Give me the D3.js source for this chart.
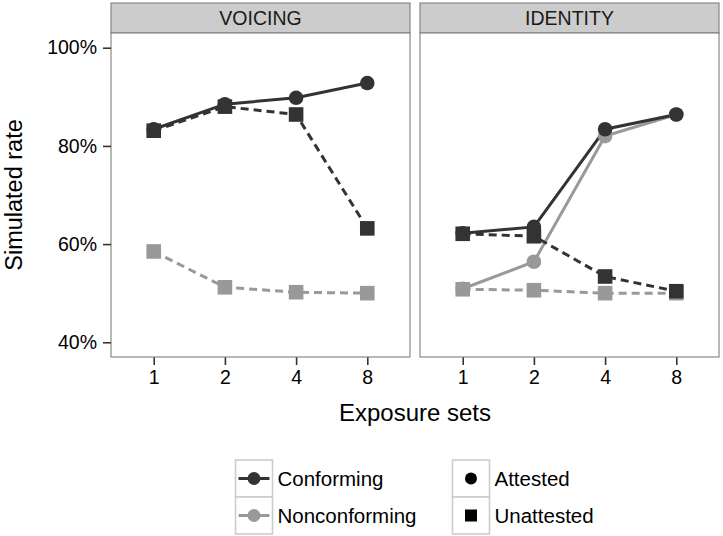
<html>
<head>
    <script src="https://d3js.org/d3.v7.min.js"></script>
    <style>
        body { margin: 0; background: #fff; }
        text { font-family: "Liberation Sans", Arial, sans-serif; }
    </style>
</head>
<body>
<svg id="chart" width="723" height="536"></svg>

<script>
    // data
    const exposureSets = ["1", "2", "4", "8"];
    const panelNames = ["VOICING", "IDENTITY"];
    const yTicks = [0.4, 0.6, 0.8, 1.0];

    const voicingConfAtt = [0.834, 0.885, 0.898, 0.928];
    const voicingConfUnatt = [0.831, 0.880, 0.864, 0.632];
    const voicingNonconfUnatt = [0.585, 0.512, 0.502, 0.500];

    const identityConfAtt = [0.622, 0.635, 0.834, 0.864];
    const identityConfUnatt = [0.621, 0.616, 0.534, 0.504];
    const identityNonconfAtt = [0.509, 0.564, 0.820, 0.864];
    const identityNonconfUnatt = [0.508, 0.506, 0.500, 0.500];

    const colourNames = ["Conforming", "Nonconforming"];
    const shapeNames = ["Attested", "Unattested"];

    const dark = "#333333";
    const grey = "#999999";

    // series list per panel, grey ones first so dark sit on top
    const panelSeries = [
        [
            {values: voicingNonconfUnatt, colour: grey, shape: "square"},
            {values: voicingConfAtt, colour: dark, shape: "circle"},
            {values: voicingConfUnatt, colour: dark, shape: "square"}
        ],
        [
            {values: identityNonconfAtt, colour: grey, shape: "circle"},
            {values: identityNonconfUnatt, colour: grey, shape: "square"},
            {values: identityConfAtt, colour: dark, shape: "circle"},
            {values: identityConfUnatt, colour: dark, shape: "square"}
        ]
    ];

    let svg = d3.select("svg#chart");

    let panelLeft = [111, 420];
    let panelWidth = 299;
    let panelTop = 33;
    let panelBottom = 357;
    let stripTop = 3;

    let yScale = d3.scaleLinear().domain([0.37, 1.03]).range([panelBottom, panelTop]);

    panelNames.forEach(function(name, p) {
        let x0 = panelLeft[p];
        let xScale = d3.scalePoint().domain(exposureSets).range([x0, x0 + panelWidth]).padding(0.6);

        //strip
        svg.append("rect")
            .attr("x", x0).attr("y", stripTop)
            .attr("width", panelWidth).attr("height", panelTop - stripTop)
            .style("fill", "#cccccc").style("stroke", "#7f7f7f").style("stroke-width", 1.1);
        svg.append("text")
            .attr("x", x0 + panelWidth / 2).attr("y", (stripTop + panelTop) / 2)
            .attr("dy", "0.36em").attr("text-anchor", "middle")
            .style("font-size", "19.5px").style("fill", "#1a1a1a")
            .text(name);

        //panel background
        svg.append("rect")
            .attr("x", x0).attr("y", panelTop)
            .attr("width", panelWidth).attr("height", panelBottom - panelTop)
            .style("fill", "#ffffff");

        //x axis ticks
        let xAxis = d3.axisBottom(xScale).tickSize(8).tickSizeOuter(0).tickPadding(5);
        let gx = svg.append("g")
            .attr("transform", "translate(0," + panelBottom + ")")
            .call(xAxis);
        gx.select(".domain").remove();
        gx.selectAll("line").style("stroke", dark).style("stroke-width", 1.6);
        gx.selectAll("text").style("font-size", "19.5px").style("fill", "#000")
            .style("font-family", "'Liberation Sans', Arial, sans-serif");

        //lines
        let line = d3.line()
            .x((d, i) => xScale(exposureSets[i]))
            .y(d => yScale(d));
        panelSeries[p].forEach(function(s) {
            svg.append("path")
                .attr("d", line(s.values))
                .style("fill", "none")
                .style("stroke", s.colour)
                .style("stroke-width", 3)
                .style("stroke-dasharray", s.shape == "square" ? "8,5" : null);
        });

        //points: circles then squares
        ["circle", "square"].forEach(function(shape) {
            panelSeries[p].filter(s => s.shape == shape).forEach(function(s) {
                s.values.forEach(function(v, i) {
                    let cx = xScale(exposureSets[i]);
                    let cy = yScale(v);
                    if (shape == "circle") {
                        svg.append("circle")
                            .attr("cx", cx).attr("cy", cy).attr("r", 7.3)
                            .style("fill", s.colour);
                    } else {
                        svg.append("rect")
                            .attr("x", cx - 7.3).attr("y", cy - 7.3)
                            .attr("width", 14.6).attr("height", 14.6)
                            .style("fill", s.colour);
                    }
                });
            });
        });

        //panel border
        svg.append("rect")
            .attr("x", x0).attr("y", panelTop)
            .attr("width", panelWidth).attr("height", panelBottom - panelTop)
            .style("fill", "none").style("stroke", "#7f7f7f").style("stroke-width", 1.1);
    });

    //y axis on the left panel
    let yAxis = d3.axisLeft(yScale).tickValues(yTicks).tickFormat(d3.format(".0%"))
        .tickSize(8).tickSizeOuter(0).tickPadding(6);
    let gy = svg.append("g")
        .attr("transform", "translate(" + panelLeft[0] + ",0)")
        .call(yAxis);
    gy.select(".domain").remove();
    gy.selectAll("line").style("stroke", dark).style("stroke-width", 1.6);
    gy.selectAll("text").style("font-size", "19.5px").style("fill", "#000")
        .style("font-family", "'Liberation Sans', Arial, sans-serif");

    //axis titles
    svg.append("text")
        .attr("x", (panelLeft[0] + panelLeft[1] + panelWidth) / 2).attr("y", 421)
        .attr("text-anchor", "middle")
        .style("font-size", "24px").style("fill", "#000")
        .text("Exposure sets");
    svg.append("text")
        .attr("transform", "translate(22," + (panelTop + panelBottom) / 2 + ") rotate(-90)")
        .attr("text-anchor", "middle")
        .style("font-size", "23.5px").style("fill", "#000")
        .text("Simulated rate");

    //legends
    let keyW = 37, keyH = 37;
    let keyTop = 460;

    //colour legend
    colourNames.forEach(function(name, i) {
        let kx = 235.5, ky = keyTop + i * keyH;
        let col = i == 0 ? dark : grey;
        svg.append("rect")
            .attr("x", kx).attr("y", ky).attr("width", keyW).attr("height", keyH)
            .style("fill", "#fff").style("stroke", "#cccccc").style("stroke-width", 1.6);
        svg.append("line")
            .attr("x1", kx + 3).attr("x2", kx + keyW - 3)
            .attr("y1", ky + keyH / 2).attr("y2", ky + keyH / 2)
            .style("stroke", col).style("stroke-width", 3);
        svg.append("circle")
            .attr("cx", kx + keyW / 2).attr("cy", ky + keyH / 2).attr("r", 6.5)
            .style("fill", col);
        svg.append("text")
            .attr("x", kx + keyW + 5).attr("y", ky + keyH / 2).attr("dy", "0.36em")
            .style("font-size", "20.5px").style("fill", "#000")
            .text(name);
    });

    //shape legend
    shapeNames.forEach(function(name, i) {
        let kx = 452.5, ky = keyTop + i * keyH;
        svg.append("rect")
            .attr("x", kx).attr("y", ky).attr("width", keyW).attr("height", keyH)
            .style("fill", "#fff").style("stroke", "#cccccc").style("stroke-width", 1.6);
        if (i == 0) {
            svg.append("circle")
                .attr("cx", kx + keyW / 2).attr("cy", ky + keyH / 2).attr("r", 6)
                .style("fill", "#000");
        } else {
            svg.append("rect")
                .attr("x", kx + keyW / 2 - 6).attr("y", ky + keyH / 2 - 6)
                .attr("width", 12).attr("height", 12)
                .style("fill", "#000");
        }
        svg.append("text")
            .attr("x", kx + keyW + 5).attr("y", ky + keyH / 2).attr("dy", "0.36em")
            .style("font-size", "20.5px").style("fill", "#000")
            .text(name);
    });
</script>
</body>
</html>
